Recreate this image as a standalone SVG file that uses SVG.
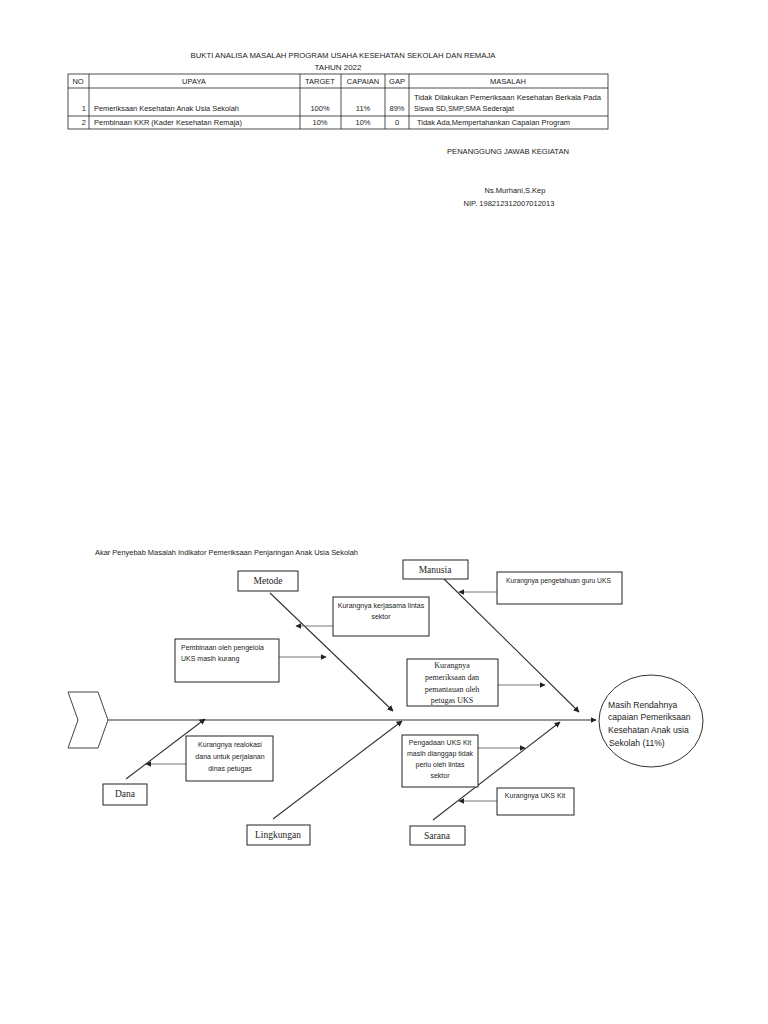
<svg xmlns="http://www.w3.org/2000/svg" width="768" height="1024" viewBox="0 0 768 1024">
<style>
.s{font-family:"Liberation Sans",Arial,sans-serif;fill:#222}
.t{font-family:"Liberation Serif","Times New Roman",serif;fill:#222}
.tb{fill:none;stroke:#222;stroke-width:0.8}
.bx{fill:#fff;stroke:#222;stroke-width:1}
.bone{stroke:#333;stroke-width:1.1;fill:none}
.sub{stroke:#777;stroke-width:1;fill:none}
</style>
<defs>
<marker id="ah" viewBox="0 0 10 10" refX="9" refY="5" markerWidth="6" markerHeight="6" markerUnits="userSpaceOnUse" orient="auto">
<path d="M0,0 L10,5 L0,10 z" fill="#222"/>
</marker>
</defs>
<rect width="768" height="1024" fill="#fff"/>

<g id="header">
<text class="s" x="343" y="58" font-size="8" text-anchor="middle" textLength="305" lengthAdjust="spacingAndGlyphs">BUKTI ANALISA MASALAH PROGRAM USAHA KESEHATAN SEKOLAH DAN REMAJA</text>
<text class="s" x="338" y="70" font-size="8" text-anchor="middle">TAHUN 2022</text>
</g>

<g id="table">
<rect class="tb" x="68" y="74" width="540" height="55"/>
<line class="tb" x1="68" y1="88" x2="608" y2="88"/>
<line class="tb" x1="68" y1="116" x2="608" y2="116"/>
<line class="tb" x1="89" y1="74" x2="89" y2="129"/>
<line class="tb" x1="300" y1="74" x2="300" y2="129"/>
<line class="tb" x1="341" y1="74" x2="341" y2="129"/>
<line class="tb" x1="385" y1="74" x2="385" y2="129"/>
<line class="tb" x1="409" y1="74" x2="409" y2="129"/>
<g font-size="7.5">
<text class="s" x="78" y="84" text-anchor="middle">NO</text>
<text class="s" x="194" y="84" text-anchor="middle">UPAYA</text>
<text class="s" x="320" y="84" text-anchor="middle">TARGET</text>
<text class="s" x="363" y="84" text-anchor="middle">CAPAIAN</text>
<text class="s" x="397" y="84" text-anchor="middle">GAP</text>
<text class="s" x="508" y="84" text-anchor="middle">MASALAH</text>
<text class="s" x="86" y="111" text-anchor="end">1</text>
<text class="s" x="94" y="111" textLength="145" lengthAdjust="spacingAndGlyphs">Pemeriksaan Kesehatan Anak Usia Sekolah</text>
<text class="s" x="320" y="111" text-anchor="middle">100%</text>
<text class="s" x="363" y="111" text-anchor="middle">11%</text>
<text class="s" x="397" y="111" text-anchor="middle">89%</text>
<text class="s" x="414" y="100" textLength="187" lengthAdjust="spacingAndGlyphs">Tidak Dilakukan Pemeriksaan Kesehatan Berkala Pada</text>
<text class="s" x="414" y="111" textLength="100" lengthAdjust="spacingAndGlyphs">Siswa SD,SMP,SMA Sederajat</text>
<text class="s" x="86" y="125" text-anchor="end">2</text>
<text class="s" x="94" y="125" textLength="148" lengthAdjust="spacingAndGlyphs">Pembinaan KKR (Kader Kesehatan Remaja)</text>
<text class="s" x="320" y="125" text-anchor="middle">10%</text>
<text class="s" x="363" y="125" text-anchor="middle">10%</text>
<text class="s" x="397" y="125" text-anchor="middle">0</text>
<text class="s" x="417" y="125" textLength="153" lengthAdjust="spacingAndGlyphs">Tidak Ada,Mempertahankan Capaian Program</text>
</g>
</g>

<g id="signature" font-size="7.5">
<text class="s" x="508" y="154" text-anchor="middle" textLength="122" lengthAdjust="spacingAndGlyphs">PENANGGUNG JAWAB KEGIATAN</text>
<text class="s" x="515" y="193" text-anchor="middle">Ns.Murhani,S.Kep</text>
<text class="s" x="509" y="206" text-anchor="middle">NIP. 198212312007012013</text>
</g>

<g id="caption">
<text class="s" x="95" y="555" font-size="7.3" textLength="263" lengthAdjust="spacingAndGlyphs">Akar Penyebab Masalah Indikator Pemeriksaan Penjaringan Anak Usia Sekolah</text>
</g>

<g id="connectors">
<line class="bone" x1="108" y1="720" x2="596" y2="720" stroke-width="1.5" marker-end="url(#ah)"/>
<line class="bone" x1="270" y1="593" x2="393" y2="711" marker-end="url(#ah)"/>
<line class="bone" x1="444" y1="579" x2="579" y2="712" marker-end="url(#ah)"/>
<line class="bone" x1="126" y1="779" x2="205" y2="719" marker-end="url(#ah)"/>
<line class="bone" x1="273" y1="819" x2="402" y2="721" marker-end="url(#ah)"/>
<line class="bone" x1="433" y1="820" x2="560" y2="722" marker-end="url(#ah)"/>
<line class="sub" x1="497" y1="592" x2="459" y2="592" marker-end="url(#ah)"/>
<line class="sub" x1="333" y1="626" x2="296" y2="626" marker-end="url(#ah)"/>
<line class="sub" x1="279" y1="657" x2="326" y2="657" marker-end="url(#ah)"/>
<line class="sub" x1="498" y1="685" x2="545" y2="685" marker-end="url(#ah)"/>
<line class="sub" x1="186" y1="764" x2="146" y2="764" marker-end="url(#ah)"/>
<line class="sub" x1="478" y1="748" x2="525" y2="748" marker-end="url(#ah)"/>
<line class="sub" x1="497" y1="801" x2="459" y2="801" marker-end="url(#ah)"/>
</g>

<g id="head-chevron">
<polygon points="68,692 98,692 108,720 98,748 68,748 78,720" fill="#fff" stroke="#444" stroke-width="1"/>
</g>

<g id="effect">
<ellipse cx="651" cy="721" rx="52" ry="46" fill="#fff" stroke="#333" stroke-width="1"/>
<g font-size="8.6">
<text class="s" x="608" y="708">Masih Rendahnya</text>
<text class="s" x="608" y="720">capaian Pemeriksaan</text>
<text class="s" x="608" y="733">Kesehatan Anak usia</text>
<text class="s" x="609" y="746">Sekolah (11%)</text>
</g>
</g>

<g id="metode">
<rect class="bx" x="238" y="571" width="60" height="20"/>
<text class="t" x="268" y="584" font-size="9.5" text-anchor="middle">Metode</text>
</g>
<g id="manusia">
<rect class="bx" x="403" y="560" width="65" height="19"/>
<text class="t" x="435" y="573" font-size="9.5" text-anchor="middle">Manusia</text>
</g>
<g id="dana">
<rect class="bx" x="103" y="784" width="44" height="21"/>
<text class="t" x="125" y="797" font-size="9.5" text-anchor="middle">Dana</text>
</g>
<g id="lingkungan">
<rect class="bx" x="247" y="825" width="63" height="20"/>
<text class="t" x="278" y="838" font-size="9.5" text-anchor="middle">Lingkungan</text>
</g>
<g id="sarana">
<rect class="bx" x="410" y="826" width="55" height="19"/>
<text class="t" x="437" y="839" font-size="9.5" text-anchor="middle">Sarana</text>
</g>

<g id="kurang-pengetahuan">
<rect class="bx" x="497" y="572" width="125" height="32"/>
<text class="s" x="506" y="583" font-size="7" textLength="105" lengthAdjust="spacingAndGlyphs">Kurangnya pengetahuan guru UKS</text>
</g>
<g id="kurang-kerjasama">
<rect class="bx" x="333" y="597" width="96" height="39"/>
<text class="s" x="381" y="608" font-size="7" text-anchor="middle">Kurangnya kerjasama lintas</text>
<text class="s" x="381" y="619" font-size="7" text-anchor="middle">sektor</text>
</g>
<g id="pembinaan">
<rect class="bx" x="175" y="639" width="104" height="43"/>
<text class="s" x="181" y="650" font-size="7">Pembinaan oleh pengelola</text>
<text class="s" x="181" y="661" font-size="7">UKS masih kurang</text>
</g>
<g id="kurang-pemeriksaan">
<rect class="bx" x="407" y="659" width="91" height="47"/>
<g font-size="8" text-anchor="middle">
<text class="t" x="452" y="668">Kurangnya</text>
<text class="t" x="452" y="680">pemeriksaan dan</text>
<text class="t" x="452" y="692">pemantauan oleh</text>
<text class="t" x="452" y="703">petugas UKS</text>
</g>
</g>
<g id="realokasi">
<rect class="bx" x="186" y="736" width="87" height="45"/>
<g font-size="7" text-anchor="middle">
<text class="s" x="230" y="747">Kurangnya realokasi</text>
<text class="s" x="230" y="759">dana untuk perjalanan</text>
<text class="s" x="230" y="771">dinas petugas</text>
</g>
</g>
<g id="pengadaan">
<rect class="bx" x="402" y="735" width="76" height="52"/>
<g font-size="7" text-anchor="middle">
<text class="s" x="440" y="745">Pengadaan UKS Kit</text>
<text class="s" x="440" y="756">masih dianggap tidak</text>
<text class="s" x="440" y="767">perlu oleh lintas</text>
<text class="s" x="440" y="778">sektor</text>
</g>
</g>
<g id="kurang-ukskit">
<rect class="bx" x="497" y="788" width="77" height="27"/>
<text class="s" x="535" y="798" font-size="7" text-anchor="middle">Kurangnya UKS Kit</text>
</g>
</svg>
